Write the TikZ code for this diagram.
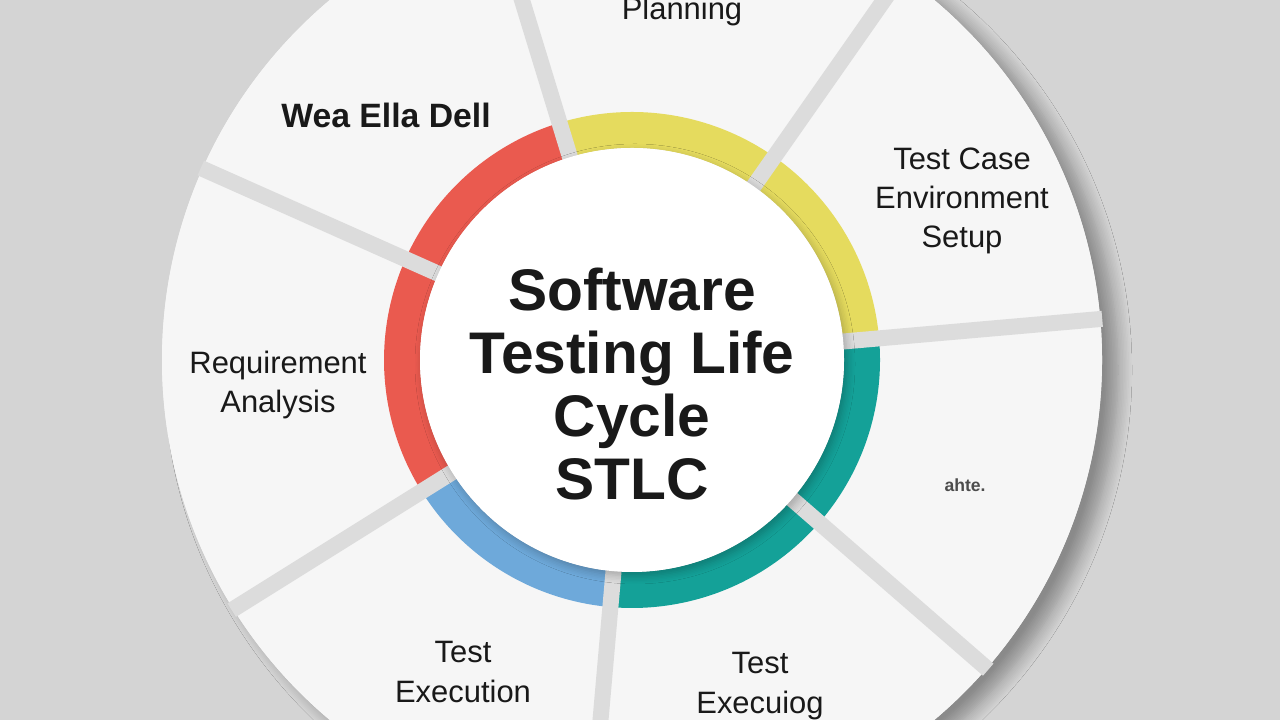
\documentclass[tikz,border=0pt]{standalone}
\usepackage{fontspec}
\setmainfont{Liberation Sans}
\usepackage{tikz}
\usetikzlibrary{shadows.blur}
\newcommand\R{4.7}
\newcommand\Rb{2.3}

\definecolor{bg}{HTML}{D4D4D4}
\definecolor{seg}{HTML}{F6F6F6}
\definecolor{gap}{HTML}{DCDCDC}
\definecolor{ringred}{HTML}{EA5A4F}
\definecolor{ringyellow}{HTML}{E5DB5E}
\definecolor{ringteal}{HTML}{14A198}
\definecolor{ringblue}{HTML}{6EA9DA}

\begin{document}
\begin{tikzpicture}[font=\fontsize{8.8}{11.2}\selectfont]

  \tikzstyle{every node}=[align=center,text=black!90]
  \tikzstyle{wedge}=[fill=seg]
  \tikzstyle{band}=[line width=0.36cm]
  \tikzstyle{gapbar}=[draw=gap,line width=0.16cm]
  \tikzstyle{title}=[font=\fontsize{16.7}{17.9}\selectfont\bfseries]

  \useasboundingbox (0,0) rectangle (12.8,7.2);
  \clip (0,0) rectangle (12.8,7.2);
  \fill[bg] (0,0) rectangle (12.8,7.2);
  \coordinate (C) at (6.32,3.6);

  % disk with its shadow
  \fill[seg,blur shadow={shadow xshift=0.16cm,shadow yshift=-0.1cm,shadow blur radius=0.14cm,shadow blur steps=10,shadow opacity=35}] (C) circle (\R);

  % the seven segments
  \fill[wedge] (C) -- ++(5:\R)   arc[start angle=5,  end angle=55, radius=\R] -- cycle;
  \fill[wedge] (C) -- ++(55:\R)  arc[start angle=55, end angle=107,radius=\R] -- cycle;
  \fill[wedge] (C) -- ++(107:\R) arc[start angle=107,end angle=156,radius=\R] -- cycle;
  \fill[wedge] (C) -- ++(156:\R) arc[start angle=156,end angle=212,radius=\R] -- cycle;
  \fill[wedge] (C) -- ++(212:\R) arc[start angle=212,end angle=265,radius=\R] -- cycle;
  \fill[wedge] (C) -- ++(265:\R) arc[start angle=265,end angle=319,radius=\R] -- cycle;
  \fill[wedge] (C) -- ++(319:\R) arc[start angle=319,end angle=365,radius=\R] -- cycle;

  % coloured ring
  \draw[band,ringyellow] (C) ++(5:\Rb)   arc[start angle=5,  end angle=107,radius=\Rb];
  \draw[band,ringred]    (C) ++(107:\Rb) arc[start angle=107,end angle=212,radius=\Rb];
  \draw[band,ringblue]   (C) ++(212:\Rb) arc[start angle=212,end angle=265,radius=\Rb];
  \draw[band,ringteal]   (C) ++(265:\Rb) arc[start angle=265,end angle=365,radius=\Rb];

  % gaps between segments
  \draw[gapbar] (C) ++(5:2.0)   -- ++(5:2.72);
  \draw[gapbar] (C) ++(55:2.0)  -- ++(55:2.72);
  \draw[gapbar] (C) ++(107:2.0) -- ++(107:2.72);
  \draw[gapbar] (C) ++(156:2.0) -- ++(156:2.72);
  \draw[gapbar] (C) ++(212:2.0) -- ++(212:2.72);
  \draw[gapbar] (C) ++(265:2.0) -- ++(265:2.72);
  \draw[gapbar] (C) ++(319:2.0) -- ++(319:2.72);

  \node[circle,fill=white,minimum size=4.24cm,inner sep=0pt,
        blur shadow={shadow xshift=0.03cm,shadow yshift=-0.04cm,shadow blur radius=0.08cm,shadow blur steps=6,shadow opacity=25}]
        (HUB) at (C) {};

  \node[title] (STLC) at (6.32,3.36) {Software\\Testing Life\\Cycle\\STLC};

  \node (PLN) at (6.82,7.08)  {Planning};
  \node[font=\fontsize{9.6}{11}\selectfont\bfseries] (WEA) at (3.86,6.05) {Wea Ella Dell};
  \node (TCE) at (9.62,5.19)  {Test Case\\Environment\\Setup};
  \node (REQ) at (2.78,3.35)  {Requirement\\Analysis};
  \node (TEX) at (4.63,0.48)  {Test\\Execution};
  \node (TXB) at (7.60,0.34)  {Test\\Execuiog};
  \node[font=\fontsize{5}{6}\selectfont\bfseries,text=black!70] (AHT) at (9.65,2.35) {ahte.};

\end{tikzpicture}
\end{document}
